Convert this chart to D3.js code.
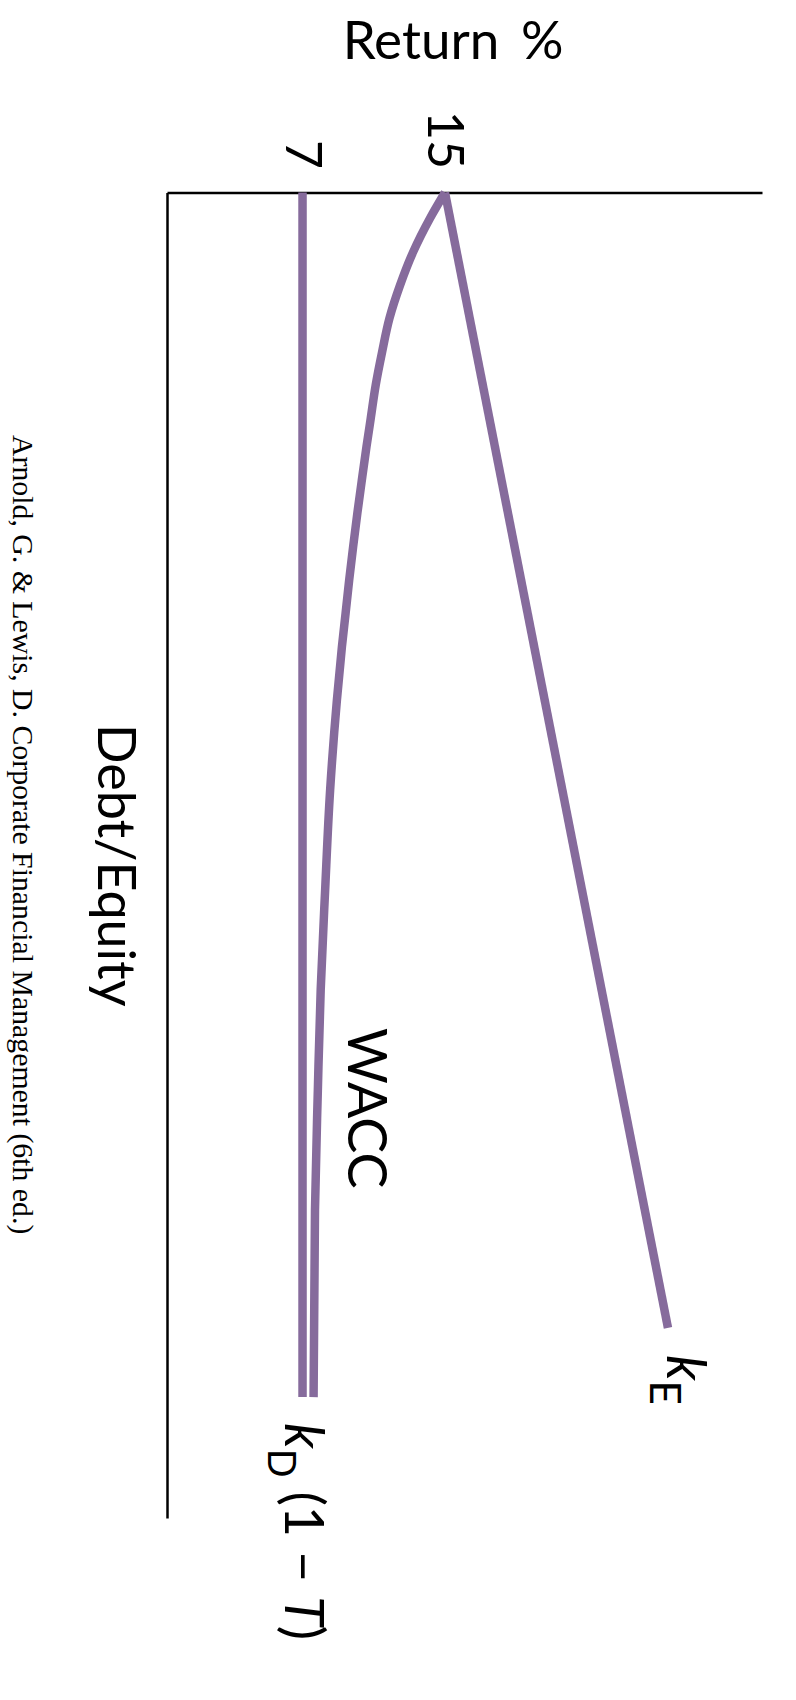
<!DOCTYPE html>
<html>
<head>
<meta charset="utf-8">
<script src="https://cdn.jsdelivr.net/npm/d3@7"></script>
<style>
  body { margin: 0; background: #fff; }
  .lbl { font-family: Lato, "Open Sans", sans-serif; fill: #000; }
</style>
</head>
<body>
<div id="chart"></div>
<script>
// Return % ticks
const returnTicks = [7, 15];

// WACC curve, debt/equity vs return %
const waccDE = [0, 0.097, 0.223, 0.349, 0.475, 0.601, 0.726, 0.852, 0.960, 1.085, 1.209,
                1.337, 1.462, 1.586, 1.715, 1.915, 2.254, 2.631, 3.008, 3.386, 3.838, 4.544];
const waccReturn = [15, 14.16, 13.22, 12.48, 11.88, 11.47, 11.11, 10.83, 10.59, 10.33, 10.08,
                    9.84, 9.62, 9.42, 9.21, 8.93, 8.55, 8.27, 8.02, 7.86, 7.70, 7.62];

// cost of equity kE
const keDE = [0, 4.283];
const keReturn = [15, 27.52];

// after tax cost of debt kD(1-T)
const kdDE = [0, 4.544];
const kdReturn = [7, 7];

const citation = "Arnold, G. & Lewis, D. Corporate Financial Management (6th ed.)";

const width = 796, height = 1700;
const purple = "#866b9c";

const svg = d3.select("#chart")
    .append("svg")
    .attr("width", width)
    .attr("height", height);

// Scales (chart is turned on its side: return runs across, debt/equity runs down)
const retScale = d3.scaleLinear()
    .domain([-0.61, 32.8])
    .range([167, 762]);

const deScale = d3.scaleLinear()
    .domain([0, 5])
    .range([192.5, 1518]);

// Axes
svg.append("g")
    .attr("transform", `translate(0,${deScale(0)})`)
    .call(d3.axisTop(retScale).tickValues([]).tickSizeOuter(0))
    .select(".domain")
    .attr("stroke", "#000")
    .attr("stroke-width", 2.5);

svg.append("g")
    .attr("transform", `translate(${retScale.range()[0]},0)`)
    .call(d3.axisLeft(deScale).tickValues([]).tickSizeOuter(0))
    .select(".domain")
    .attr("stroke", "#000")
    .attr("stroke-width", 2.5);

// tick labels, rotated
svg.selectAll(".tick-lbl")
    .data(returnTicks)
    .enter()
    .append("text")
        .attr("class", "lbl tick-lbl")
        .attr("transform", d => `translate(${retScale(d) - 17},169) rotate(90)`)
        .attr("text-anchor", "end")
        .attr("font-size", 50)
        .text(d => d);

// Axis titles
svg.append("text")
    .attr("class", "lbl")
    .attr("x", 453)
    .attr("y", 59)
    .attr("text-anchor", "middle")
    .attr("font-size", 53)
    .attr("word-spacing", 8)
    .text("Return %");

svg.append("text")
    .attr("class", "lbl")
    .attr("transform", "translate(98,724) rotate(90)")
    .attr("font-size", 52)
    .text("Debt/Equity");

// Lines
const zipSeries = (de, r) => de.map((d, i) => ({de: d, r: r[i]}));

const line = d3.line()
    .x(d => retScale(d.r))
    .y(d => deScale(d.de))
    .curve(d3.curveMonotoneY);

const series = [
    zipSeries(kdDE, kdReturn),
    zipSeries(waccDE, waccReturn),
    zipSeries(keDE, keReturn)
];

svg.selectAll(".series")
    .data(series)
    .enter()
    .append("path")
        .attr("class", "series")
        .attr("d", line)
        .attr("fill", "none")
        .attr("stroke", purple)
        .attr("stroke-width", 8.5)
        .attr("stroke-linejoin", "miter");

// Series labels
svg.append("text")
    .attr("class", "lbl")
    .attr("transform", `translate(${retScale(9.56)},${deScale(3.152)}) rotate(90)`)
    .attr("font-size", 54)
    .text("WACC");

const ke = svg.append("text")
    .attr("class", "lbl")
    .attr("transform", `translate(${retScale(27.45)},${deScale(4.385)}) rotate(90)`)
    .attr("font-size", 54);
ke.append("tspan").attr("font-style", "italic").text("k");
ke.append("tspan").attr("font-size", 42).attr("dy", 17).text("E");

const kd = svg.append("text")
    .attr("class", "lbl")
    .attr("transform", `translate(${retScale(6.02)},${deScale(4.642)}) rotate(90)`)
    .attr("font-size", 54);
kd.append("tspan").attr("font-style", "italic").text("k");
kd.append("tspan").attr("font-size", 38).attr("dy", 17).text("D");
kd.append("tspan").attr("dy", -17).text(" (1 \u2212 ");
kd.append("tspan").attr("font-style", "italic").text("T");
kd.append("tspan").text(")");

// Source
svg.append("text")
    .attr("transform", "translate(13,435) rotate(90)")
    .attr("font-family", "'Liberation Serif', 'Times New Roman', serif")
    .attr("font-size", 29.8)
    .attr("fill", "#000")
    .text(citation);
</script>
</body>
</html>
